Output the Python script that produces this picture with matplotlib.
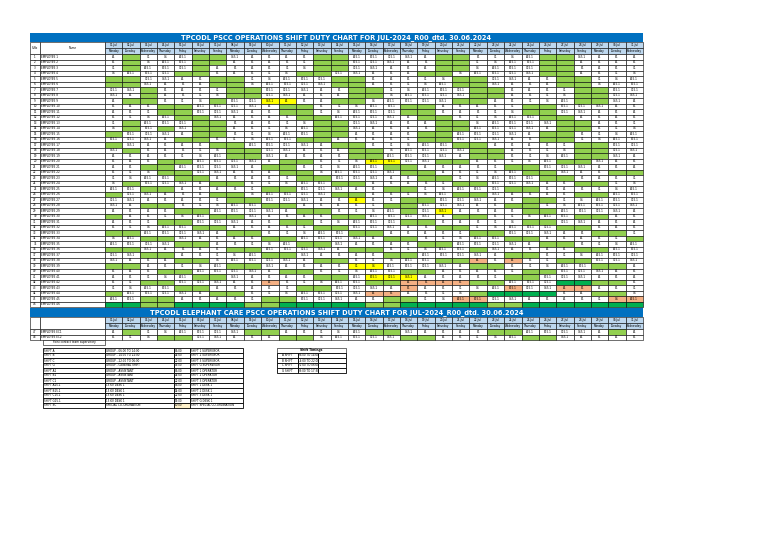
import matplotlib
matplotlib.use("Agg")
import matplotlib.pyplot as plt
from matplotlib.patches import Rectangle

title1 = "TPCODL PSCC OPERATIONS SHIFT DUTY CHART FOR JUL-2024_R00_dtd. 30.06.2024"
title2 = "TPCODL ELEPHANT CARE PSCC OPERATIONS SHIFT DUTY CHART FOR JUL-2024_R00_dtd. 30.06.2024"
dates = [f"{d:02d}-Jul" for d in range(1, 32)]
wk = ["Monday", "Tuesday", "Wednesday", "Thursday", "Friday", "Saturday", "Sunday"]
weekdays = [wk[i % 7] for i in range(31)]

# W=white duty, G=green off, Y=yellow, O=orange, D=dark green
status = [
 "WGWWWGGWWWWWGGWWWWWGGWWWWGGWWWW",
 "WGWWWGGWWWWWGGWWWWWGGWWWWGGWWWW",
 "WGWWWGWWWWWWGGWWWWWGGWWWWGGWWWW",
 "WWWWGGWWWWWGGWWWWWGGWWWWWGGWWWW",
 "GGWWWWGGWWWWWGGWWWWWGGWWWWGGWWW",
 "GGWWWWGGWWWWWGGWWWWWGGWWWWGGWWW",
 "WWGWWWWGGWWWWWGGWWWWWGGWWWWGGWW",
 "WWGWWWWGGWWWWWGGWWWWWGGWWWWGGWW",
 "WGGWWWGWWYYWWGGWWWWWGGWWWWWGGWW",
 "WWWGGWWWWWGGWWWWWGGWWWWWGGWWWWW",
 "WWWGGWWWWWGGWWWWWGGWWWWWGGWWWWW",
 "WWWWGGWWWWWGGWWWWWGGWWWWWGGWWWW",
 "WGWWWGGWWWWWGGWWWWWGGWWWWWGGWWW",
 "WGWGWGGWWWWWGGWWWWWGGWWWWWGGWWW",
 "GWWWWGGWWWWWGGWWWWGGWWWWWGGWWWW",
 "WWWWGGWWWWWGGWWWWWGGWWWWWGGWWWW",
 "GWWWWWGGWWWWWGGWWWWWGGWWWWWGGWW",
 "WGWWWWWGGWWWWWGGWWWWWGGWWWWGGWW",
 "WWWWWWWGGWWWWWGGWWWWWGGWWWWGGWW",
 "WWWGGWWWWWGGWWWYYWWGGWWWWWGGWWW",
 "WWGGWWWWWGGWWWWWGGWWWWWGGWWWWWW",
 "WWWGGWWWWWGGWWWWWGGWWWWWGGWWWGG",
 "WWWWGGWWWWWGGWWWWWGGWWWWWGGWWWW",
 "WGWWWWGGWWWWWGGWWWWWGGWWWWWGGWW",
 "WWGGWWWWWGGWWWWWGGWWWWWGGWWWWWW",
 "GWWWWWGGWWWWWGGWWWWWGGWWWWWGGWW",
 "WWWWWWWGGWWWWWYWWGGWWWWWGGWWWWW",
 "WWGGWWWWWGGWWWWWGGWWWWWGGWWWWWW",
 "WWWWGGWWWWWGGWWWWGWYWWWWGGWWWWW",
 "GWWWWWGGWWWWWGGWWWWWGGWWWWWGGWW",
 "WWWGGWWWWWGGWWWWWGGWWWWWGGWWWWW",
 "WWWWWGGWWWWWGGWWWWWGGWWWWWGGWWW",
 "GGWWWWWGGWWWWWGGWWWWWGGWWWWWGGW",
 "WWGGWWWWWGGWWWWWGGWWWWWGGWWWWWG",
 "WWWWGGWWWWWGGWWWWWGGWWWWWGGWWWW",
 "GGWWWWWGGWWWWWGGWWWWWGWWWWWGGWW",
 "WWGGWWWWWGGWWWWWGGWWWWWGGWWWWWW",
 "WWWWGGWWWWWWGGWWWWWGGOWOWWGGWWW",
 "GGWWWWWGGWWWWWYYWWWWWGGWWWWWGGW",
 "WWWGGWWWWWGGWWWWWGGWWWWWGGWWWWW",
 "WWWWWGGWWWWWGGWYYYWWWWWGGWWWWWW",
 "WWGGWWWWWOWWWWWGGOOOOGGWWWDDGGW",
 "WWWWGGWWWWWGGWWWWOWWWWWOWWOOWWW",
 "GWWWWWGGWWWWWWWOOWWWWGDDDDWWGGW",
 "WWGGWWWWWGGWWWWWGGWWOOWWWWWWWOO",
 "DDGGDDDDGGDDDDDGGDDDDDGGDDDDDDD",
]
codes = ["A1", "B1", "C1", "G1", "A15.1", "B15.1", "C15.1", "G15.1", "A1", "B1"]
names = ["EMPLOYEE %d" % (i + 1) for i in range(len(status))]

status2 = ["WGWWWWWWGGWWWWWGGWWWWWGGWWWWWGW",
           "WWWGGWWWWWGGWWWWWGGWWWWWGGWWWWW"]
names2 = ["EMPLOYEE EC1", "EMPLOYEE EC2"]

legend_rows = [("SHIFT A", "GROUP - 06:00 TO 14:00", "06:00", "SHIFT 1 SUPERVISOR"),
               ("SHIFT B", "GROUP - 14:00 TO 22:00", "14:00", "SHIFT 2 SUPERVISOR"),
               ("SHIFT C", "GROUP - 22:00 TO 06:00", "22:00", "SHIFT 3 SUPERVISOR"),
               ("SHIFT G", "GROUP - GENERAL SHIFT", "09:00", "SHIFT G SUPERVISOR"),
               ("SHIFT A1", "GROUP - ASSISTANT", "06:00", "SHIFT 1 OPERATOR"),
               ("SHIFT B1", "GROUP - ASSISTANT", "14:00", "SHIFT 2 OPERATOR"),
               ("SHIFT C1", "GROUP - ASSISTANT", "22:00", "SHIFT 3 OPERATOR"),
               ("SHIFT A15.1", "15 KV DESK 1", "06:00", "SHIFT 1 DESK 1"),
               ("SHIFT B15.1", "15 KV DESK 1", "14:00", "SHIFT 2 DESK 1"),
               ("SHIFT C15.1", "15 KV DESK 1", "22:00", "SHIFT 3 DESK 1"),
               ("SHIFT G15.1", "15 KV DESK 1", "09:00", "SHIFT G DESK 1"),
               ("SHIFT SC", "SPECIAL CO-ORDINATION", "10:00", "SHIFT SPECIAL CO-ORDINATION")]
right_rows = [("", "Shift Timings", ""), ("A SHIFT", "06:00 TO 14:00", ""),
              ("B SHIFT", "14:00 TO 22:00", ""), ("C SHIFT", "22:00 TO 06:00", ""),
              ("G SHIFT", "09:00 TO 17:30", "")]

colors = {"W": "white", "G": "#92D050", "Y": "#FFFF00", "O": "#F4B084", "D": "#00B050"}
BLUE, HDR = "#0070C0", "#BDD7EE"

fig = plt.figure(figsize=(7.68, 5.43), dpi=100)
ax = fig.add_axes([0, 0, 1, 1])
ax.set_xlim(0, 768); ax.set_ylim(543, 0); ax.axis("off")

x0, xs, xn, xd = 30, 40, 105, 643
cw = (xd - xn) / 31

def cell(x, y, w, h, fc, txt="", fs=2.2, color="black", lw=0.4, ha="center", bold=False):
    ax.add_patch(Rectangle((x, y), w, h, facecolor=fc, edgecolor="black", lw=lw))
    if txt:
        tx = x + w / 2 if ha == "center" else x + 1
        ax.text(tx, y + h / 2, txt, fontsize=fs, ha=ha, va="center", color=color,
                fontweight="bold" if bold else "normal")

def section(ytop, title, stat, nms, start, rh):
    ax.add_patch(Rectangle((x0, ytop), xd - x0, 9, facecolor=BLUE, edgecolor="none"))
    ax.text((x0 + xd) / 2, ytop + 4.5, title, color="white", fontsize=4.8, fontweight="bold",
            ha="center", va="center")
    y = ytop + 9
    cell(x0, y, xs - x0, 12, "white", "S.No" if start == 1 else "", 2)
    cell(xs, y, xn - xs, 12, "white", "Name" if start == 1 else "", 2)
    for j in range(31):
        cell(xn + j * cw, y, cw, 6, HDR, dates[j], 2)
        cell(xn + j * cw, y + 6, cw, 6, HDR, weekdays[j], 2)
    y += 12
    for i, row in enumerate(stat):
        cell(x0, y, xs - x0, rh, "white", str(start + i), 2)
        cell(xs, y, xn - xs, rh, "white", nms[i], 2, ha="left")
        for j, s in enumerate(row):
            t = codes[(i + j) % len(codes)] if s in "WYO" else ""
            cell(xn + j * cw, y, cw, rh, colors[s], t, 2)
        y += rh
    return y

yend = section(33, title1, status, names, 1, 5.5)
y2 = section(yend + 1, title2, status2, names2, len(status) + 1, 5.5)
cell(xs + 3, y2, xn - xs - 3, 5, "white", "Point contact team supervisory", 2)

# legend table
ly, lh = 348, 5.0
xl = [43, 105, 174, 190, 243]
for i, r in enumerate(legend_rows):
    for k in range(4):
        fc = "#FFF2CC" if (k == 2 and i == len(legend_rows) - 1) else "white"
        cell(xl[k], ly + i * lh, xl[k + 1] - xl[k], lh, fc, r[k], 2, ha="left", lw=0.6)
xr = [277, 298, 318, 346]
for i, r in enumerate(right_rows):
    if i == 0:
        cell(xr[0], 348, xr[-1] - xr[0], 5, "white", r[1], 2.2, bold=True)
        continue
    for k in range(3):
        cell(xr[k], 348 + i * 5, xr[k + 1] - xr[k], 5, "white", r[k], 2, lw=0.6)

fig.savefig("out.png", dpi=100)
